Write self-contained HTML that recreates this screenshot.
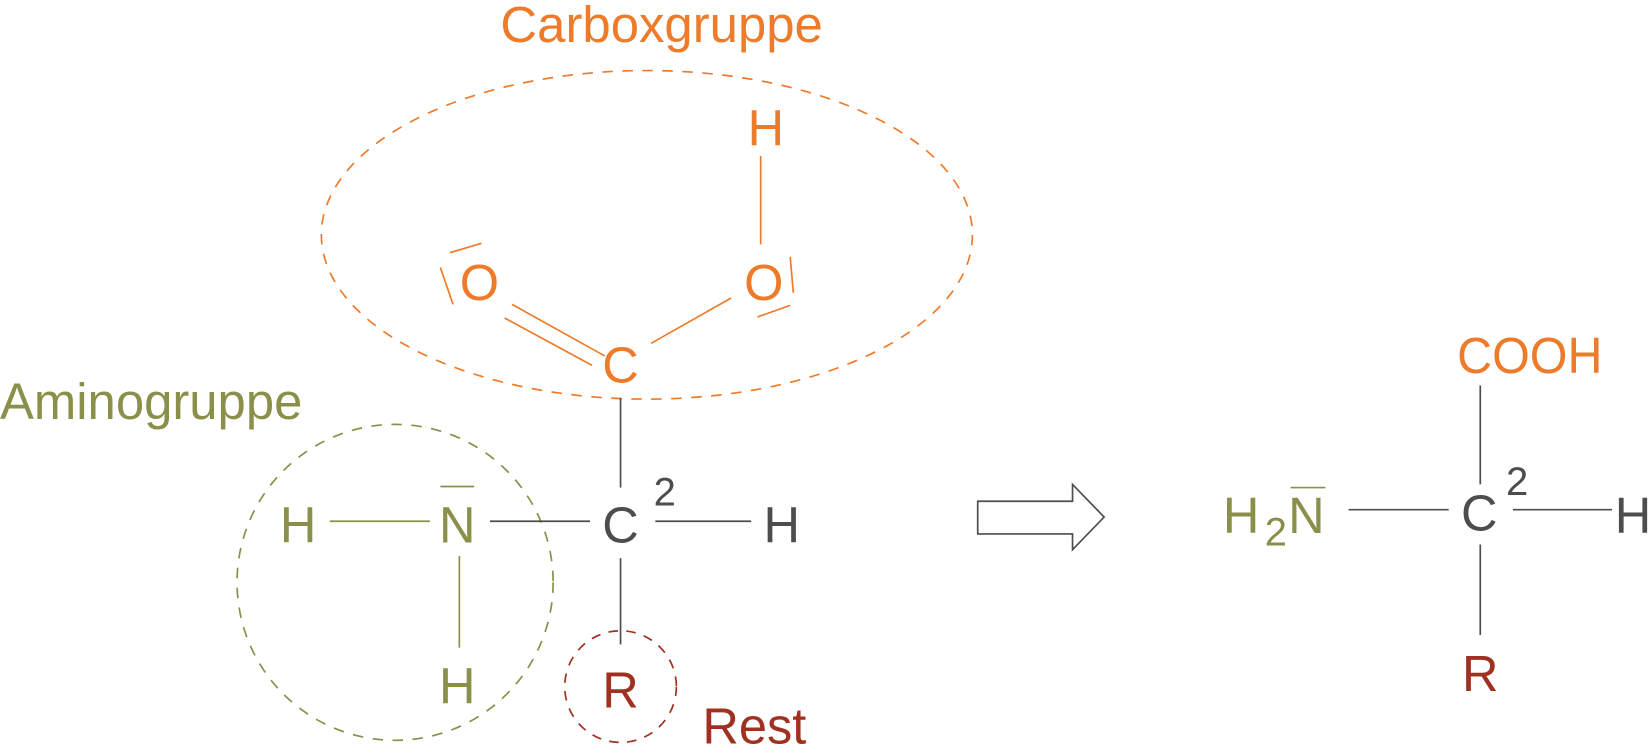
<!DOCTYPE html>
<html><head><meta charset="utf-8"><style>
html,body{margin:0;padding:0;background:#fff;}
svg{display:block;}
text{font-family:"Liberation Sans",sans-serif;font-size:48px;text-anchor:middle;}
</style></head><body>
<svg width="1652" height="754" viewBox="0 0 1568 716" preserveAspectRatio="none">
<g fill="none" stroke-width="1.6">
<ellipse cx="614" cy="223" rx="309" ry="156" stroke="#ee7b2a" stroke-dasharray="10,9"/>
<ellipse cx="375" cy="553" rx="150" ry="150" stroke="#8a8f4a" stroke-dasharray="10,9"/>
<circle cx="589" cy="652" r="53" stroke="#a0301f" stroke-dasharray="9,8"/>
<g stroke="#ee7b2a">
<line x1="722" y1="148" x2="722" y2="232"/>
<line x1="486" y1="289" x2="574" y2="338"/>
<line x1="479" y1="302" x2="562" y2="347"/>
<line x1="618" y1="326" x2="694" y2="283"/>
<line x1="427" y1="240" x2="457" y2="231"/>
<line x1="418" y1="254" x2="430" y2="289"/>
<line x1="750" y1="244" x2="753" y2="278"/>
<line x1="719" y1="301" x2="750" y2="290"/>
</g>
<g stroke="#8a8f4a">
<line x1="313" y1="495" x2="408" y2="495"/>
<line x1="436" y1="528" x2="436" y2="615"/>
<line x1="418" y1="462" x2="450" y2="462"/>
<line x1="1225" y1="463" x2="1258" y2="463"/>
</g>
<g stroke="#4d4d4d">
<line x1="589" y1="378" x2="589" y2="463"/>
<line x1="465" y1="495" x2="560" y2="495"/>
<line x1="622" y1="495" x2="713" y2="495"/>
<line x1="589" y1="530" x2="589" y2="612"/>
<polygon points="928,476 1018,476 1018,460 1048,491 1018,522 1018,507 928,507"/>
<line x1="1405" y1="366" x2="1405" y2="460"/>
<line x1="1280" y1="484" x2="1375" y2="484"/>
<line x1="1436" y1="484" x2="1530" y2="484"/>
<line x1="1405" y1="517" x2="1405" y2="603"/>
</g>
</g>
<g fill="#ee7b2a">
<text x="628" y="40" textLength="306" lengthAdjust="spacingAndGlyphs">Carboxgruppe</text>
<text x="727" y="138">H</text>
<text x="455" y="285">O</text>
<text x="725" y="285">O</text>
<text x="589" y="363">C</text>
<text x="1452" y="354" textLength="138" lengthAdjust="spacingAndGlyphs">COOH</text>
</g>
<g fill="#8a8f4a">
<text x="0" y="398" style="text-anchor:start" textLength="287" lengthAdjust="spacingAndGlyphs">Aminogruppe</text>
<text x="283" y="515">H</text>
<text x="434" y="515">N</text>
<text x="434" y="668">H</text>
<text x="1178" y="506">H</text>
<text x="1211" y="518" style="font-size:38px">2</text>
<text x="1240" y="506">N</text>
</g>
<g fill="#4d4d4d">
<text x="589" y="515">C</text>
<text x="631" y="480" style="font-size:38px">2</text>
<text x="742" y="515">H</text>
<text x="1404" y="504">C</text>
<text x="1440" y="470" style="font-size:38px">2</text>
<text x="1550" y="506">H</text>
</g>
<g fill="#a0301f">
<text x="589" y="672">R</text>
<text x="716" y="706">Rest</text>
<text x="1405" y="656">R</text>
</g>
</svg>
</body></html>
